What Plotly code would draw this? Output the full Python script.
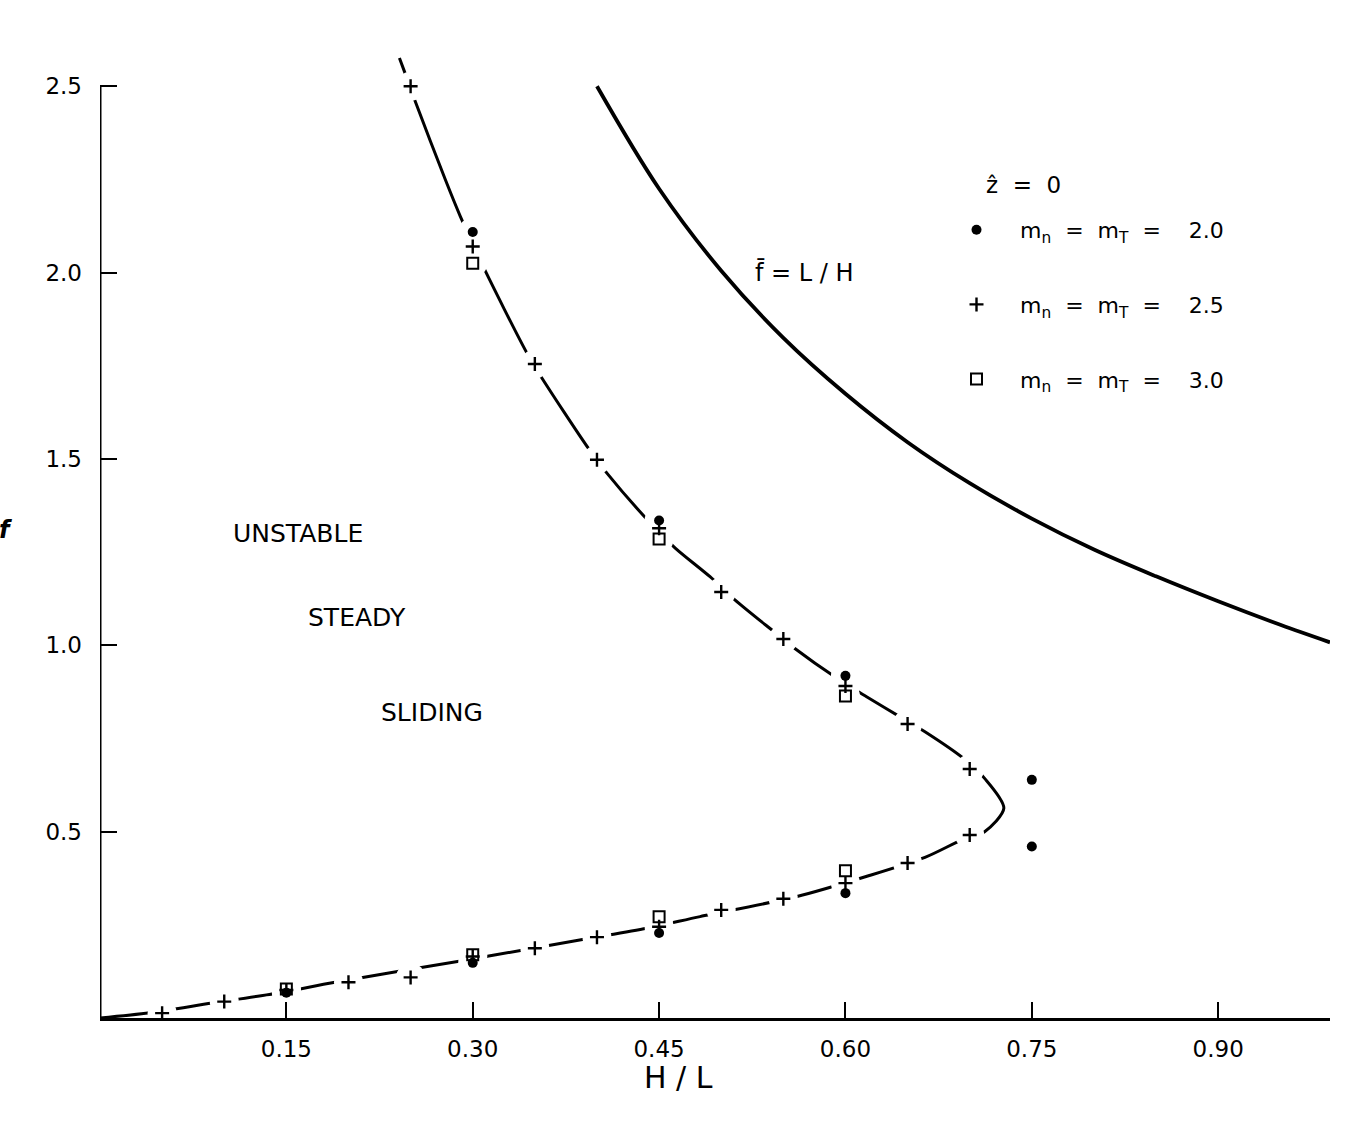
import plotly.graph_objects as go

# ---- data ----
# stability boundary (dashed curve), read along the curve starting at the origin
curve_x = [0.0, 0.040, 0.090, 0.134, 0.188, 0.243, 0.289, 0.343, 0.394, 0.440, 0.483, 0.561, 0.616,
           0.664, 0.695, 0.712, 0.7275, 0.712, 0.696, 0.664, 0.646, 0.617, 0.592, 0.559, 0.543, 0.511,
           0.491, 0.463, 0.443, 0.408, 0.393, 0.354, 0.343, 0.307, 0.290, 0.278, 0.254, 0.245, 0.241]
curve_y = [0.0, 0.014, 0.040, 0.062, 0.095, 0.127, 0.152, 0.184, 0.214, 0.241, 0.272, 0.326, 0.379,
           0.431, 0.480, 0.500, 0.563, 0.643, 0.694, 0.768, 0.804, 0.862, 0.914, 0.992, 1.035, 1.122,
           1.184, 1.261, 1.328, 1.462, 1.529, 1.726, 1.788, 2.026, 2.151, 2.249, 2.457, 2.540, 2.576]

# m_n = m_T = 2.5 (plus)
plus_x = [0.05, 0.10, 0.15, 0.20, 0.25, 0.30, 0.35, 0.40, 0.45, 0.50, 0.55, 0.60, 0.65, 0.70,
          0.70, 0.65, 0.60, 0.55, 0.50, 0.45, 0.40, 0.35, 0.30, 0.25]
plus_y = [0.013, 0.044, 0.075, 0.096, 0.109, 0.165, 0.187, 0.217, 0.245, 0.290, 0.320, 0.362, 0.416, 0.491,
          0.668, 0.789, 0.891, 1.017, 1.143, 1.314, 1.498, 1.755, 2.070, 2.500]

# m_n = m_T = 2.0 (filled circle)
circ_x = [0.15, 0.30, 0.45, 0.60, 0.60, 0.45, 0.30, 0.75, 0.75]
circ_y = [0.068, 0.148, 0.228, 0.335, 0.918, 1.335, 2.109, 0.639, 0.460]

# m_n = m_T = 3.0 (open square)
sq_x = [0.15, 0.30, 0.45, 0.60, 0.60, 0.45, 0.30]
sq_y = [0.078, 0.170, 0.272, 0.395, 0.864, 1.285, 2.025]

# f_bar = L/H curve
lh_x = [0.40, 0.45, 0.50, 0.55, 0.60, 0.65, 0.70, 0.75, 0.80, 0.85, 0.90, 0.95, 0.99]
lh_y = [2.50, 2.225, 2.005, 1.825, 1.675, 1.545, 1.435, 1.340, 1.257, 1.185, 1.118, 1.055, 1.008]

x_ticks = [0.15, 0.30, 0.45, 0.60, 0.75, 0.90]
x_labels = ["0.15", "0.30", "0.45", "0.60", "0.75", "0.90"]
y_ticks = [0.5, 1.0, 1.5, 2.0, 2.5]
y_labels = ["0.5", "1.0", "1.5", "2.0", "2.5"]

legend_names = ["m<sub>n</sub>\u00a0\u00a0=\u00a0\u00a0m<sub>T</sub>\u00a0\u00a0=\u00a0\u00a0\u00a0\u00a02.0",
                "m<sub>n</sub>\u00a0\u00a0=\u00a0\u00a0m<sub>T</sub>\u00a0\u00a0=\u00a0\u00a0\u00a0\u00a02.5",
                "m<sub>n</sub>\u00a0\u00a0=\u00a0\u00a0m<sub>T</sub>\u00a0\u00a0=\u00a0\u00a0\u00a0\u00a03.0"]

FONT = "DejaVu Sans"
fig = go.Figure()

# solid L/H curve
fig.add_trace(go.Scatter(x=lh_x, y=lh_y, mode="lines", line=dict(color="black", width=3.8, shape="spline"),
                         showlegend=False, hoverinfo="skip"))
# boundary curve
fig.add_trace(go.Scatter(x=curve_x, y=curve_y, mode="lines",
                         line=dict(color="black", width=3, shape="spline", smoothing=0.8),
                         showlegend=False, hoverinfo="skip"))
# white masks to create the gaps around the symbols
fig.add_trace(go.Scatter(x=plus_x + circ_x + sq_x, y=plus_y + circ_y + sq_y, mode="markers",
                         marker=dict(symbol="circle", size=29, color="white", line=dict(width=0)),
                         showlegend=False, hoverinfo="skip"))

fig.add_trace(go.Scatter(x=circ_x, y=circ_y, mode="markers", name=legend_names[0],
                         marker=dict(symbol="circle", size=10, color="black"), legendgroup="a"))
fig.add_trace(go.Scatter(x=plus_x, y=plus_y, mode="markers", name=legend_names[1],
                         marker=dict(symbol="cross-thin", size=10, color="black", line=dict(width=2.4, color="black")),
                         legendgroup="b"))
fig.add_trace(go.Scatter(x=sq_x, y=sq_y, mode="markers", name=legend_names[2],
                         marker=dict(symbol="square-open", size=11, color="black", line=dict(width=2, color="black")),
                         legendgroup="c"))

# y-axis line from 0 to 2.5
fig.add_shape(type="line", x0=0, x1=0, y0=0, y1=2.5, xref="x", yref="y", line=dict(color="black", width=3))

ann_font = dict(family=FONT, size=25, color="black")
fig.add_annotation(x=0.159, y=1.299, text="UNSTABLE", showarrow=False, font=ann_font)
fig.add_annotation(x=0.207, y=1.074, text="STEADY", showarrow=False, font=ann_font)
fig.add_annotation(x=0.267, y=0.821, text="SLIDING", showarrow=False, font=ann_font)
fig.add_annotation(x=0.567, y=2.0, text="f\u0304\u00a0=\u00a0L\u00a0/\u00a0H", showarrow=False,
                   font=dict(family=FONT, size=24, color="black"))
fig.add_annotation(xref="paper", yref="paper", x=(678 - 100) / 1230, y=(1018 - 1077) / 969,
                   xanchor="center", yanchor="middle", text="H\u00a0/\u00a0L", showarrow=False,
                   font=dict(family=FONT, size=30, color="black"))
fig.add_annotation(xref="paper", yref="paper", x=(5 - 100) / 1230, y=(1018 - 530) / 969,
                   xanchor="center", yanchor="middle", text="<b><i>f</i></b>", showarrow=False,
                   font=dict(family=FONT, size=24, color="black"))
# legend heading
fig.add_annotation(xref="paper", yref="paper", x=(984 - 100) / 1230, y=(1018 - 185) / 969,
                   xanchor="left", yanchor="middle", text="\u1E91\u00a0\u00a0=\u00a0\u00a00", showarrow=False,
                   font=dict(family=FONT, size=23, color="black"))

fig.update_layout(
    width=1346, height=1131,
    margin=dict(l=100, r=16, t=49, b=113),
    paper_bgcolor="white", plot_bgcolor="white",
    font=dict(family=FONT, size=22, color="black"),
    showlegend=True,
    legend=dict(x=(933 - 100) / 1230, y=(1018 - 209) / 969, xanchor="left", yanchor="top",
                font=dict(family=FONT, size=22), tracegroupgap=43, itemwidth=77,
                bgcolor="rgba(0,0,0,0)"),
    xaxis=dict(range=[0, 0.99], showgrid=False, zeroline=False, showline=True, linecolor="black", linewidth=3,
               tickmode="array", tickvals=x_ticks, ticktext=x_labels, ticks="inside", ticklen=16,
               tickwidth=2, tickcolor="black", tickfont=dict(family=FONT, size=23), ticklabelstandoff=8),
    yaxis=dict(range=[0, 2.6], showgrid=False, zeroline=False, showline=False,
               tickmode="array", tickvals=y_ticks, ticktext=y_labels, ticks="inside", ticklen=17,
               tickwidth=2, tickcolor="black", tickfont=dict(family=FONT, size=23), ticklabelstandoff=17),
)

fig.write_html("out.html")
